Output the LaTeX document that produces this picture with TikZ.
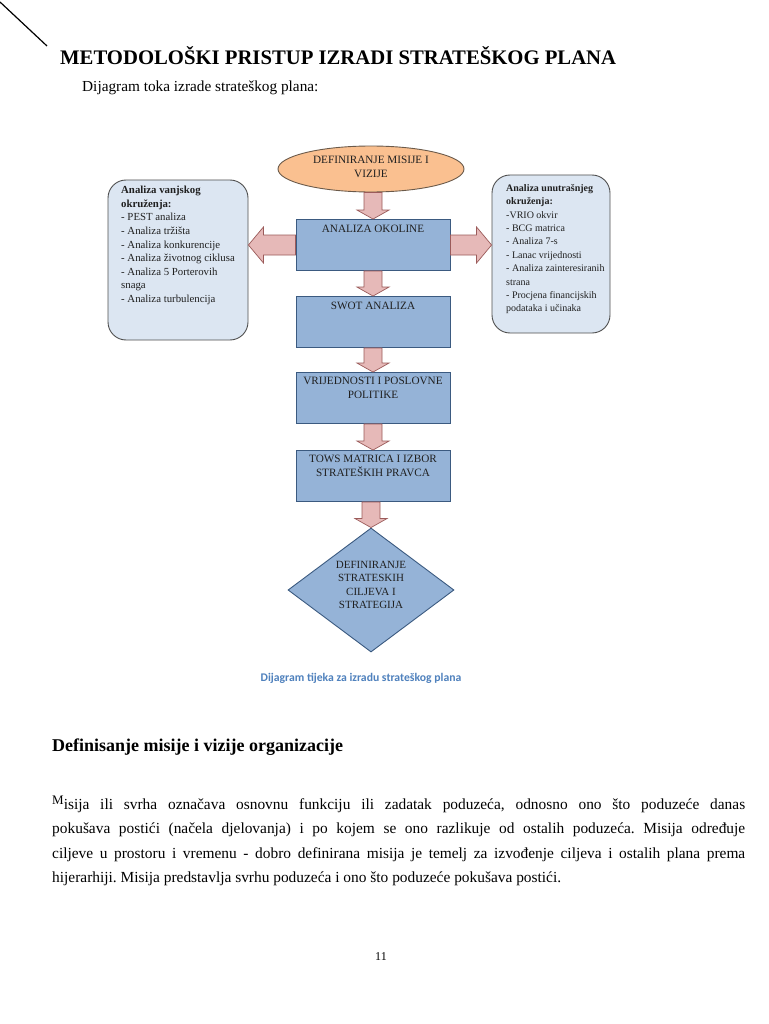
\documentclass[tikz,border=0pt]{standalone}
\usepackage{fontspec}
\setmainfont{Liberation Serif}
\newfontfamily\capfont{Carlito}
\usetikzlibrary{calc,shapes.geometric}
\definecolor{flowfill}{HTML}{95B3D7}
\definecolor{flowdraw}{HTML}{3B5A80}
\definecolor{ellfill}{HTML}{FAC090}
\definecolor{elldraw}{HTML}{6B5A4A}
\definecolor{sidefill}{HTML}{DCE6F2}
\definecolor{sidedraw}{HTML}{505050}
\definecolor{arrfill}{HTML}{E6B9B8}
\definecolor{arrdraw}{HTML}{9B5B5A}
\definecolor{capblue}{HTML}{4F81BD}
\definecolor{boxtext}{HTML}{202020}
\tikzset{
  flowbox/.style={draw=flowdraw, fill=flowfill, line width=0.9pt, minimum width=154pt, minimum height=51pt, inner sep=0pt},
  flowtext/.style={font=\fontsize{11.2}{14}\selectfont, text=boxtext, align=center, inner sep=0pt},
  sidebox/.style={draw=sidedraw, fill=sidefill, line width=0.9pt, rounded corners=18pt, inner sep=0pt},
  sidetext/.style={font=\fontsize{10.8}{13.6}\selectfont, text=boxtext, align=left, inner sep=0pt, anchor=north west},
  blockarrow/.style={draw=arrdraw, fill=arrfill, line width=0.7pt, line join=miter},
}
\newcommand\varrow[2]{%
  \draw[blockarrow] let \p1=(#1.south), \p2=(#2.north) in
    (\x2-9pt,\y1) -- (\x2+9pt,\y1) -- (\x2+9pt,\y2+9pt) -- (\x2+16pt,\y2+9pt)
    -- (\x2,\y2) -- (\x2-16pt,\y2+9pt) -- (\x2-9pt,\y2+9pt) -- cycle;}
\begin{document}
\begin{tikzpicture}[x=1pt,y=-1pt]
\useasboundingbox (0,0) rectangle (768,1024);
\fill[white] (0,0) rectangle (768,1024);
% corner line
\coordinate (c1) at (0,2);
\coordinate (c2) at (47,46);
\draw[line width=1.2pt] (c1) -- (c2);
% title
\node[anchor=base west, inner sep=0pt, font=\fontsize{20.7}{22}\selectfont\bfseries] (title) at (60,65) {METODOLOŠKI PRISTUP IZRADI STRATEŠKOG PLANA};
\node[anchor=base west, inner sep=0pt, font=\fontsize{15.3}{17}\selectfont] (sub) at (82,92) {Dijagram toka izrade strateškog plana:};
% flow
\node[ellipse, draw=elldraw, fill=ellfill, line width=0.9pt, minimum width=186pt, minimum height=46pt, inner sep=0pt] (e) at (371,169) {};
\node[flowtext] (et) at (371,167) {DEFINIRANJE MISIJE I\\VIZIJE};
\node[flowbox] (b1) at (373,245) {};
\node[flowtext, anchor=north] (b1t) at ($(b1.north)+(0,6)$) {ANALIZA OKOLINE};
\node[flowbox] (b2) at (373,322) {};
\node[flowtext, anchor=north] (b2t) at ($(b2.north)+(0,6)$) {SWOT ANALIZA};
\node[flowbox] (b3) at (373,398) {};
\node[flowtext, anchor=north] (b3t) at ($(b3.north)+(0,5)$) {VRIJEDNOSTI I POSLOVNE\\POLITIKE};
\node[flowbox] (b4) at (373,476) {};
\node[flowtext, anchor=north] (b4t) at ($(b4.north)+(0,5)$) {TOWS MATRICA I IZBOR\\STRATEŠKIH PRAVCA};
\node[diamond, draw=flowdraw, fill=flowfill, line width=0.9pt, minimum width=166pt, minimum height=124pt, inner sep=0pt] (d) at (371,590) {};
\node[flowtext, font=\fontsize{11}{13.5}\selectfont] (dt) at (371,585) {DEFINIRANJE\\STRATESKIH\\CILJEVA I\\STRATEGIJA};
% side boxes
\node[sidebox, minimum width=140pt, minimum height=160pt] (lb) at (178,260) {};
\node[sidetext] (lbt) at (121,186) {\textbf{Analiza vanjskog}\\\textbf{okruženja:}\\- PEST analiza\\- Analiza tržišta\\- Analiza konkurencije\\- Analiza životnog ciklusa\\- Analiza 5 Porterovih\\snaga\\- Analiza turbulencija};
\node[sidebox, minimum width=118pt, minimum height=158pt] (rb) at (551,254) {};
\node[sidetext, font=\fontsize{10}{13.4}\selectfont] (rbt) at (506,184) {\textbf{Analiza unutrašnjeg}\\\textbf{okruženja:}\\-VRIO okvir\\- BCG matrica\\- Analiza 7-s\\- Lanac vrijednosti\\- Analiza zainteresiranih\\strana\\- Procjena financijskih\\podataka i učinaka};
% arrows
\varrow{e}{b1}
\varrow{b1}{b2}
\varrow{b2}{b3}
\varrow{b3}{b4}
\varrow{b4}{d}
\draw[blockarrow] let \p1=(b1.west), \p2=(lb.east) in
  (\x1,\y1+10pt) -- (\x2+15pt,\y1+10pt) -- (\x2+15pt,\y1+18pt) -- (\x2,\y1)
  -- (\x2+15pt,\y1-18pt) -- (\x2+15pt,\y1-10pt) -- (\x1,\y1-10pt) -- cycle;
\draw[blockarrow] let \p1=(b1.east), \p2=(rb.west) in
  (\x1,\y1+10pt) -- (\x2-15pt,\y1+10pt) -- (\x2-15pt,\y1+18pt) -- (\x2,\y1)
  -- (\x2-15pt,\y1-18pt) -- (\x2-15pt,\y1-10pt) -- (\x1,\y1-10pt) -- cycle;
% caption
\node[anchor=base, inner sep=0pt, font=\capfont\bfseries\fontsize{11.7}{13}\selectfont, text=capblue] (cap) at (361,681) {Dijagram tijeka za izradu strateškog plana};
% heading
\node[anchor=base west, inner sep=0pt, font=\fontsize{18}{20}\selectfont\bfseries] (head) at (52,751) {Definisanje misije i vizije organizacije};
% paragraph
\node[anchor=base west, inner sep=0pt, text width=693pt, align=justify, font=\fontsize{15.4}{24.5}\selectfont] (para) at (52,809) {\frenchspacing\tolerance=10000\raisebox{5pt}{\fontsize{13}{13}\selectfont M}isija ili svrha označava osnovnu funkciju ili zadatak poduzeća, odnosno ono što poduzeće danas\linebreak pokušava postići (načela djelovanja) i po kojem se ono razlikuje od ostalih poduzeća. Misija određuje\linebreak ciljeve u prostoru i vremenu - dobro definirana misija je temelj za izvođenje ciljeva i ostalih plana prema\linebreak hijerarhiji. Misija predstavlja svrhu poduzeća i ono što poduzeće pokušava postići.};
% page number
\node[anchor=base, inner sep=0pt, font=\fontsize{12}{14}\selectfont] (pg) at (381,960) {11};
\end{tikzpicture}
\end{document}
